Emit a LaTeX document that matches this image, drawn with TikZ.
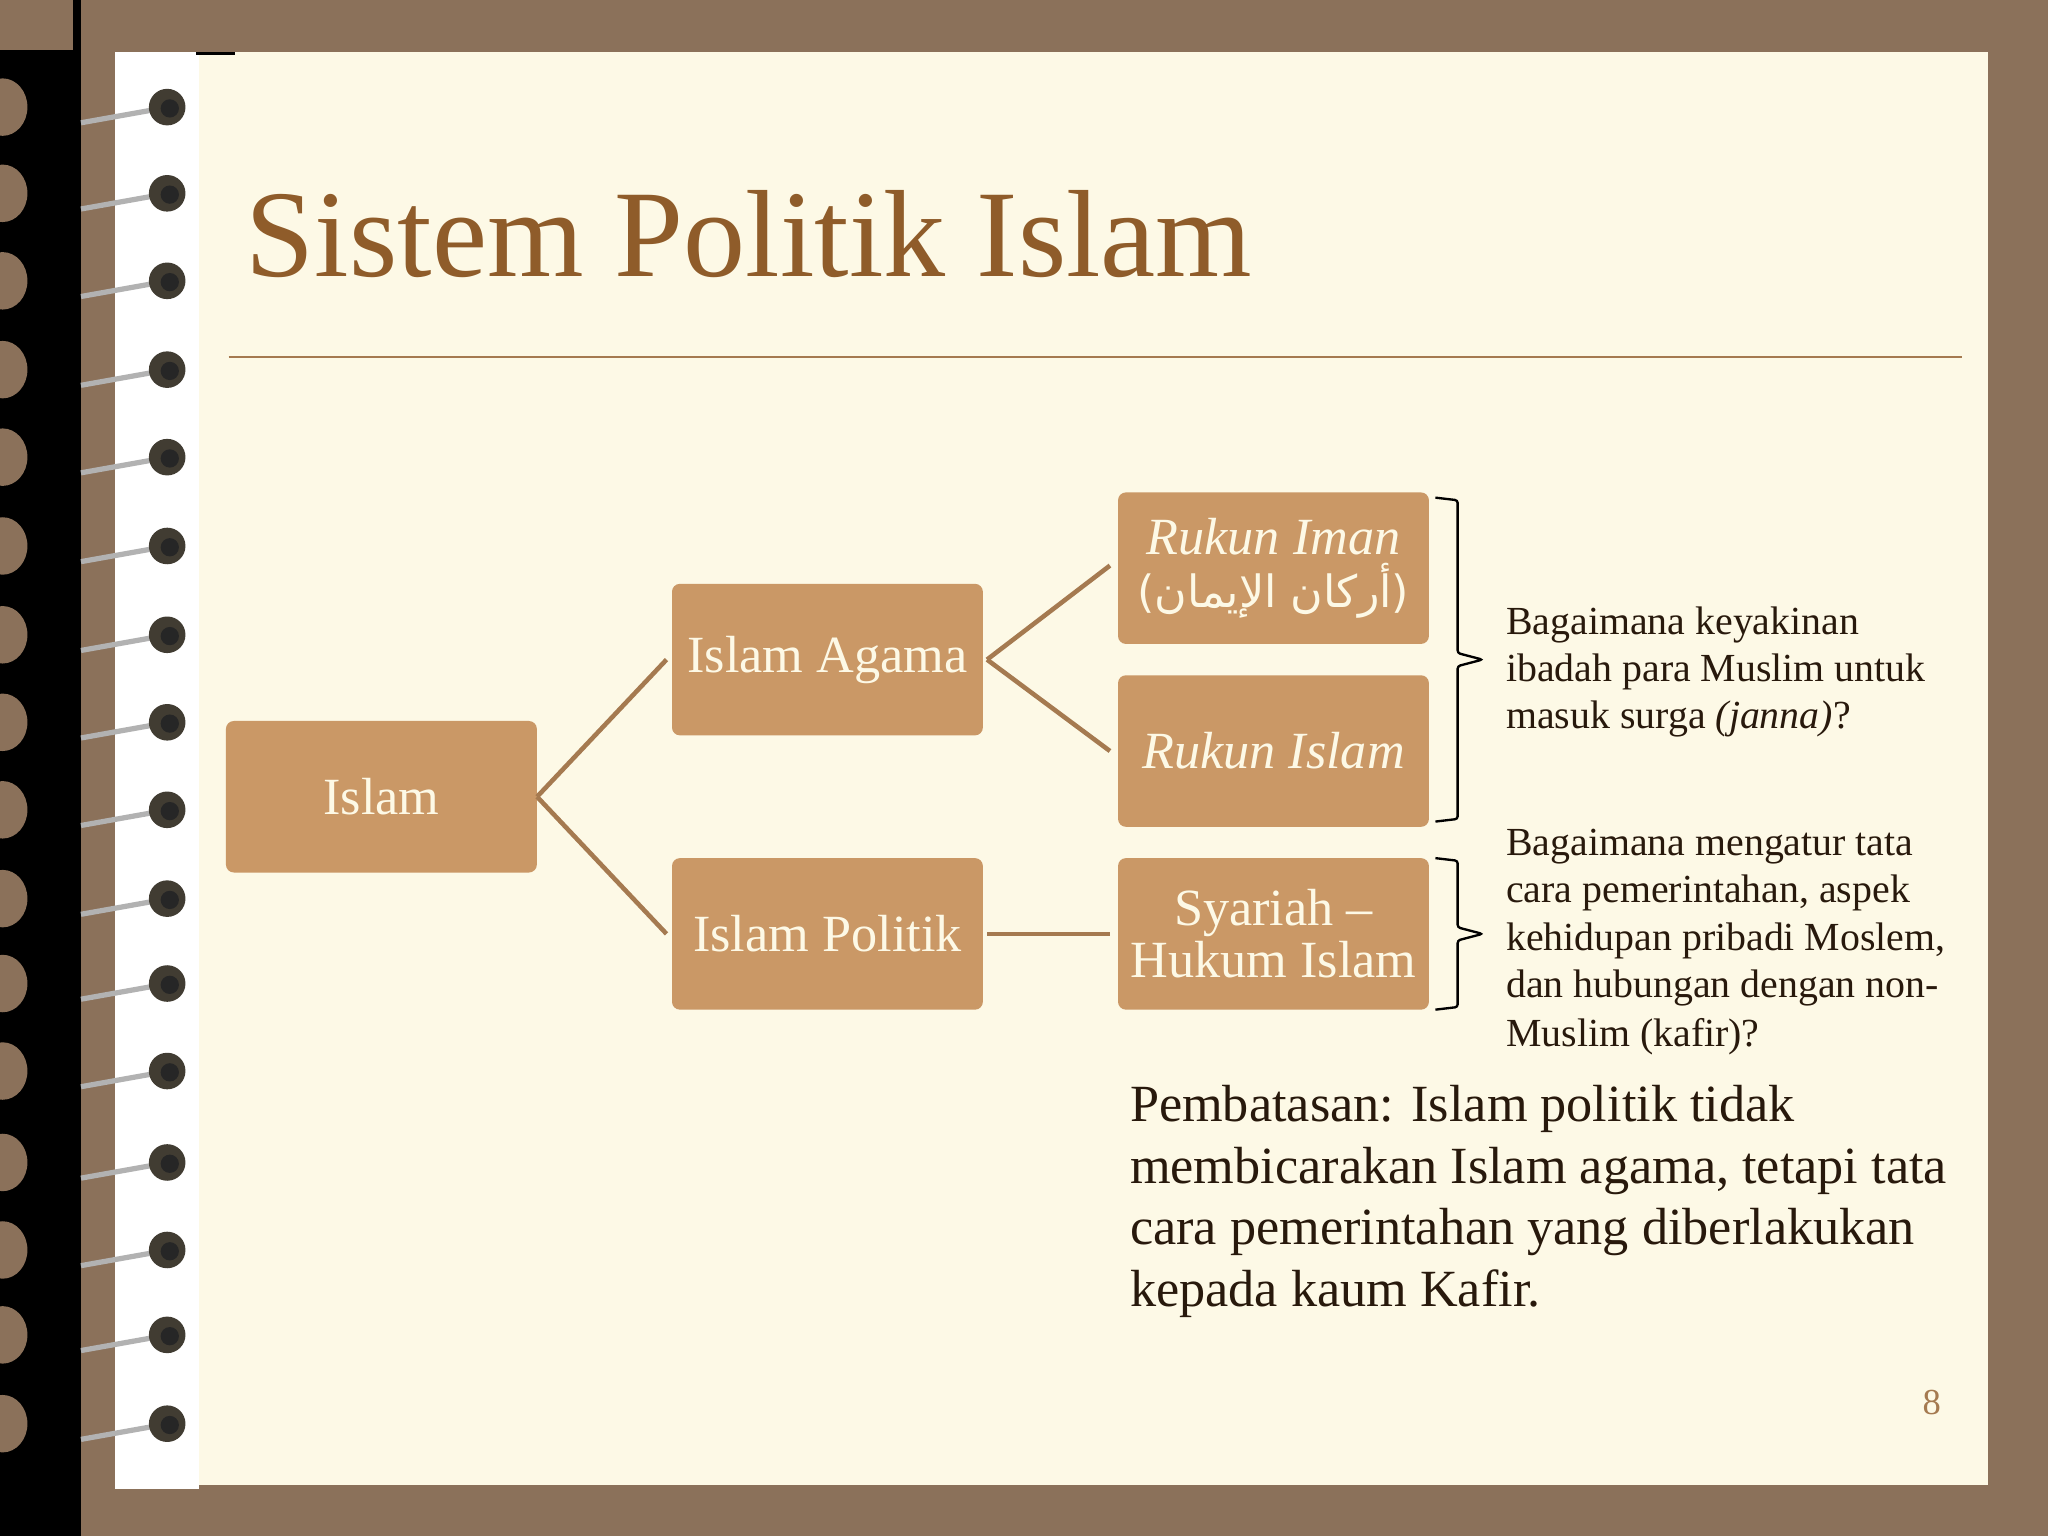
\documentclass[tikz,border=0pt]{standalone}
\usepackage{fontspec}
\setmainfont{Liberation Serif}
\newfontfamily\arabicfont[Script=Arabic]{DejaVu Sans}
\TeXXeTstate=1
\definecolor{bgbrown}{RGB}{139,113,90}
\definecolor{paper}{RGB}{253,249,230}
\definecolor{boxfill}{RGB}{202,152,102}
\definecolor{boxtext}{RGB}{253,249,230}
\definecolor{titlec}{RGB}{143,92,42}
\definecolor{linec}{RGB}{165,122,80}
\definecolor{bodyc}{RGB}{40,25,12}
\definecolor{ringc}{RGB}{65,60,50}
\tikzset{
 boxn/.style={draw=none,fill=boxfill,rounded corners=6pt,minimum width=238pt,minimum height=116pt,text=boxtext,align=center,font=\fontsize{40}{44}\selectfont,inner sep=0pt},
 conn/.style={draw=linec,line width=3.5pt},
 brace/.style={draw=black,line width=1.8pt,rounded corners=2pt},
 rtext/.style={anchor=base west,text=bodyc,font=\fontsize{30.5}{36}\selectfont,inner sep=0pt},
 btext/.style={anchor=base west,text=bodyc,font=\fontsize{40}{47}\selectfont,inner sep=0pt}
}
\begin{document}
\begin{tikzpicture}[x=1pt,y=-1pt]
\useasboundingbox (0,0) rectangle (1568,1176);
\fill[bgbrown] (0,0) rectangle (1568,1176);
\fill[paper] (150,40) rectangle (1522,1137);
\fill[white] (88,40) rectangle (152,1140);
\fill[black] (0,38) rectangle (56,1176);
\fill[black] (56,0) rectangle (62,1176);
\draw[black,line width=2pt] (150,41) -- (180,41);
\foreach \y in {82,148,215,283,350,418,486,553,620,688,753,820,890,957,1022,1090}{
  \fill[bgbrown] (2,\y) ellipse (19 and 22);
  \draw[gray!60,line width=4pt] (62,\y+12) -- (118,\y+2);
  \fill[ringc] (128,\y) circle (14);
  \fill[black!85] (130,\y+1) circle (7);
}
\node[anchor=base west,text=titlec,font=\fontsize{95}{100}\selectfont,inner sep=0pt] (title) at (188,212) {Sistem Politik Islam};
\draw[linec,line width=1.5pt] (175,273) -- (1502,273);
\node[boxn] (islam) at (292,610) {Islam};
\node[boxn] (agama) at (633.5,505) {Islam Agama};
\node[boxn] (politik) at (633.5,715) {Islam Politik};
\node[boxn] (iman) at (975,435) {\itshape Rukun Iman\\[-4pt]{\arabicfont\fontsize{34}{40}\selectfont\beginR(أركان الإيمان)\endR}};
\node[boxn] (rislam) at (975,575) {\itshape Rukun Islam};
\node[boxn] (syariah) at (975,715) {Syariah --\\[-4pt]Hukum Islam};
\draw[conn] (islam.east) -- ([xshift=-4pt]agama.west);
\draw[conn] (islam.east) -- ([xshift=-4pt]politik.west);
\draw[conn] ([xshift=3pt]agama.east) -- ([xshift=-6pt,yshift=2pt]iman.west);
\draw[conn] ([xshift=3pt]agama.east) -- ([xshift=-6pt]rislam.west);
\draw[conn] ([xshift=3pt]politik.east) -- ([xshift=-6pt]syariah.west);
\coordinate (b1) at (1135,505);
\coordinate (b2) at (1135,715);
\draw[brace] (1099,381) -- (1116,383) -- (1116,500) -- (b1) -- (1116,510) -- (1116,627) -- (1099,629);
\draw[brace] (1099,657) -- (1116,659) -- (1116,710) -- (b2) -- (1116,720) -- (1116,771) -- (1099,773);
\node[rtext] (r1) at (1153,486) {Bagaimana keyakinan};
\node[rtext] (r2) at (1153,522) {ibadah para Muslim untuk};
\node[rtext] (r3) at (1153,558) {masuk surga \textit{(janna)}?};
\node[rtext] (s1) at (1153,655) {Bagaimana mengatur tata};
\node[rtext] (s2) at (1153,691) {cara pemerintahan, aspek};
\node[rtext] (s3) at (1153,728) {kehidupan pribadi Moslem,};
\node[rtext] (s4) at (1153,764) {dan hubungan dengan non-};
\node[rtext] (s5) at (1153,801) {Muslim (kafir)?};
\node[btext] (p1) at (865,859) {Pembatasan: Islam politik tidak};
\node[btext] (p2) at (865,906) {membicarakan Islam agama, tetapi tata};
\node[btext] (p3) at (865,953) {cara pemerintahan yang diberlakukan};
\node[btext] (p4) at (865,1000) {kepada kaum Kafir.};
\node[anchor=base,text=linec,font=\fontsize{28}{30}\selectfont,inner sep=0pt] (pg) at (1479,1083) {8};
\end{tikzpicture}
\end{document}
